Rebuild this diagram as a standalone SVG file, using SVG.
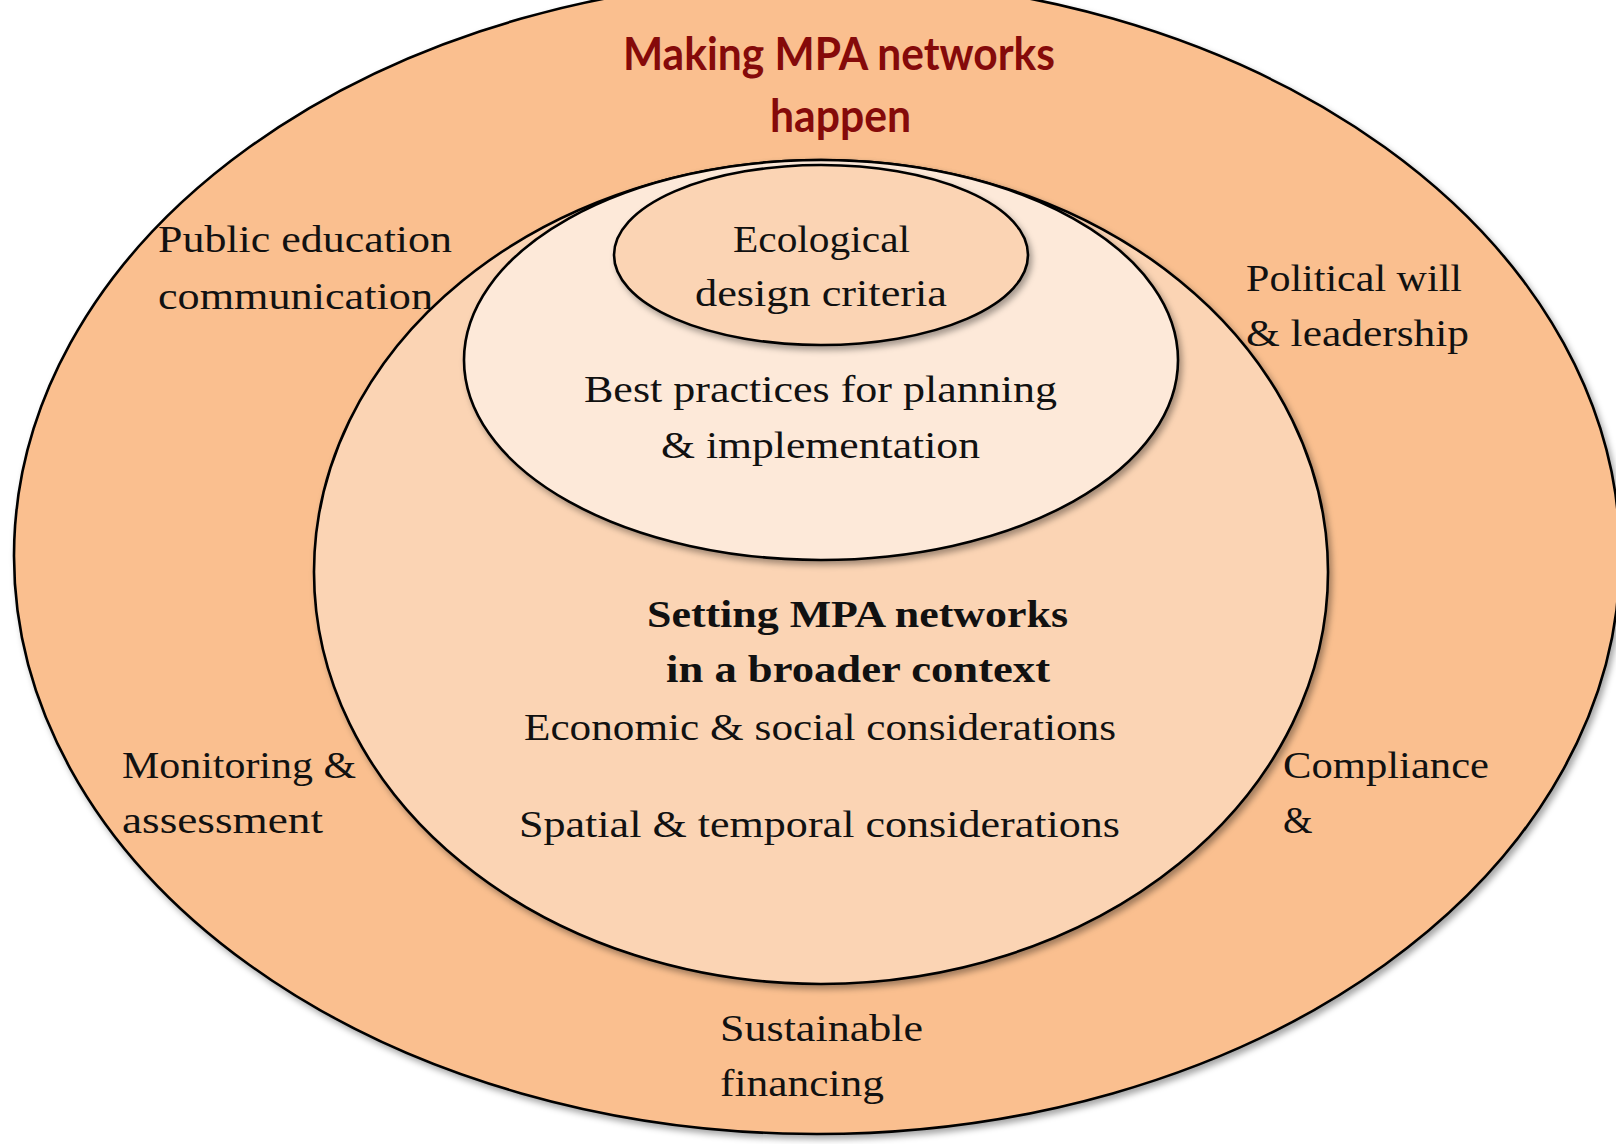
<svg xmlns="http://www.w3.org/2000/svg" width="1616" height="1144" viewBox="0 0 1616 1144">
<defs>
<filter id="sh" x="-10%" y="-10%" width="120%" height="120%">
<feDropShadow dx="3" dy="4" stdDeviation="3" flood-color="#000" flood-opacity="0.35"/>
</filter>
</defs>
<style>
.el{stroke:#000;stroke-width:2.6;filter:url(#sh)}
.t{font-family:"Liberation Serif","DejaVu Serif",serif;font-size:38px;fill:#111}
.b{font-weight:bold}
.title{font-family:Lato,"Open Sans","Liberation Sans",sans-serif;font-weight:bold;font-size:46px;fill:#850a0a}
</style>
<rect width="1616" height="1144" fill="#fff"/>
<g id="outer">
<ellipse class="el" cx="817" cy="556" rx="803" ry="578" fill="#FABF8F"/>
<text class="title" x="623" y="70" textLength="432" lengthAdjust="spacingAndGlyphs">Making MPA networks</text>
<text class="title" x="770" y="132" textLength="141" lengthAdjust="spacingAndGlyphs">happen</text>
<text class="t" x="158" y="252" textLength="294" lengthAdjust="spacingAndGlyphs">Public education</text>
<text class="t" x="158" y="309" textLength="275" lengthAdjust="spacingAndGlyphs">communication</text>
<text class="t" x="1246" y="291" textLength="216" lengthAdjust="spacingAndGlyphs">Political will</text>
<text class="t" x="1246" y="346" textLength="223" lengthAdjust="spacingAndGlyphs">&amp; leadership</text>
<text class="t" x="122" y="778" textLength="234" lengthAdjust="spacingAndGlyphs">Monitoring &amp;</text>
<text class="t" x="122" y="833" textLength="201" lengthAdjust="spacingAndGlyphs">assessment</text>
<text class="t" x="1283" y="778" textLength="206" lengthAdjust="spacingAndGlyphs">Compliance</text>
<text class="t" x="1283" y="833">&amp;</text>
<text class="t" x="720" y="1041" textLength="203" lengthAdjust="spacingAndGlyphs">Sustainable</text>
<text class="t" x="720" y="1096" textLength="164" lengthAdjust="spacingAndGlyphs">financing</text>
</g>
<g id="context">
<ellipse class="el" cx="821" cy="572" rx="507" ry="412" fill="#FBD4B4"/>
<text class="t b" x="647" y="627" textLength="421" lengthAdjust="spacingAndGlyphs">Setting MPA networks</text>
<text class="t b" x="666" y="682" textLength="384" lengthAdjust="spacingAndGlyphs">in a broader context</text>
<text class="t" x="524" y="740" textLength="592" lengthAdjust="spacingAndGlyphs">Economic &amp; social considerations</text>
<text class="t" x="519" y="837" textLength="601" lengthAdjust="spacingAndGlyphs">Spatial &amp; temporal considerations</text>
</g>
<g id="bestpractices">
<ellipse class="el" cx="821" cy="360" rx="357" ry="200" fill="#FDE9D9"/>
<text class="t" x="584" y="402" textLength="473" lengthAdjust="spacingAndGlyphs">Best practices for planning</text>
<text class="t" x="661" y="458" textLength="319" lengthAdjust="spacingAndGlyphs">&amp; implementation</text>
</g>
<g id="ecological">
<ellipse class="el" cx="821" cy="255" rx="207" ry="90" fill="#FBD4B4"/>
<text class="t" x="733" y="252" textLength="177" lengthAdjust="spacingAndGlyphs">Ecological</text>
<text class="t" x="695" y="306" textLength="252" lengthAdjust="spacingAndGlyphs">design criteria</text>
</g>
<g id="connectors"/>
</svg>
